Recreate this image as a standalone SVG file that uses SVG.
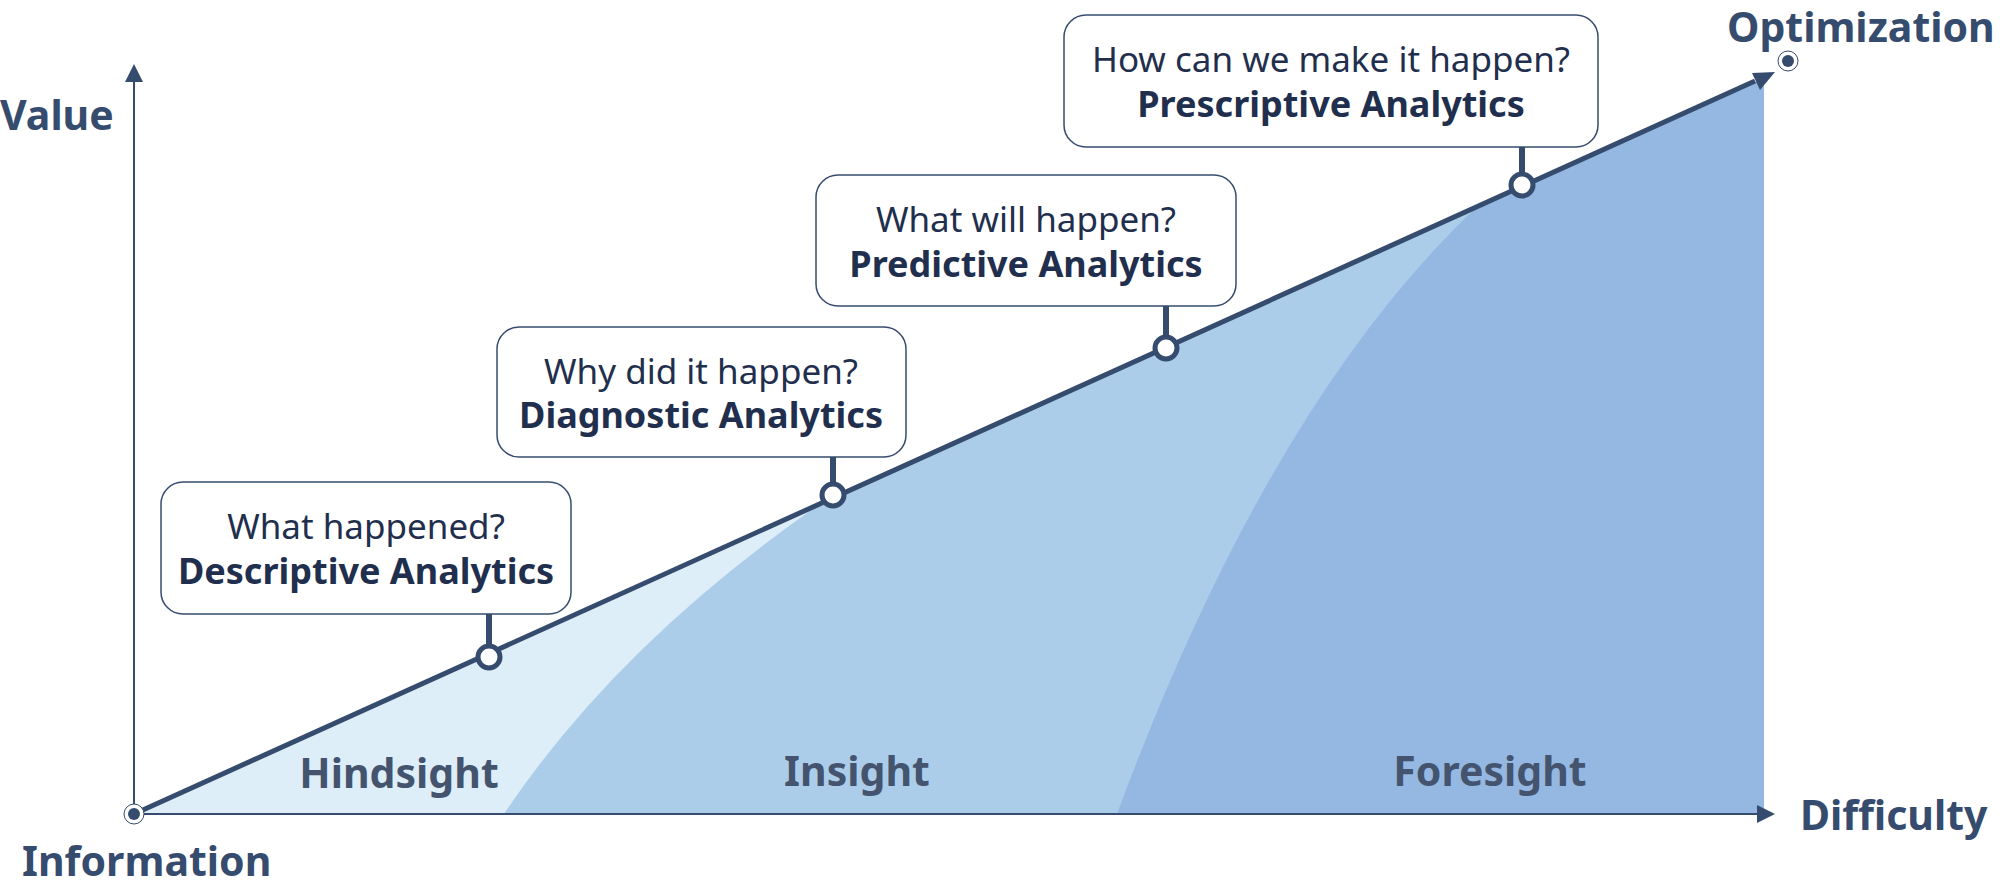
<svg xmlns="http://www.w3.org/2000/svg" width="2000" height="884" viewBox="0 0 2000 884">
<defs>
<style>
.ax{stroke:#364c6e;stroke-width:2;fill:none}
.main{stroke:#364c6e;stroke-width:5;fill:none}
.box{fill:#fff;stroke:#364c6e;stroke-width:1.5}
.q{font-family:"Noto Sans",sans-serif;font-size:35px;fill:#1f2f4d;text-anchor:middle}
.b{font-family:"Noto Sans",sans-serif;font-size:36px;font-weight:bold;fill:#1f2f4d;text-anchor:middle}
.lab{font-family:"Noto Sans",sans-serif;font-size:41px;font-weight:bold;fill:#364c6e}
.reg{font-family:"Noto Sans",sans-serif;font-size:41px;font-weight:bold;fill:#44546f;text-anchor:middle}
.stem{stroke:#364c6e;stroke-width:6}
.mk{fill:#fff;stroke:#364c6e;stroke-width:5}
</style>
</defs>
<g id="areas">
<path d="M134,814L1764,78L1764,814z" fill="#ddeef8"/>
<path d="M504,814Q620,640 833,495L1764,78L1764,814z" fill="#abcdea"/>
<path d="M1117,814Q1270,400 1480,204L1764,78L1764,814z" fill="#94b8e1"/>
</g>
<g id="connectors">
<line class="ax" x1="134" y1="814" x2="134" y2="76"/>
<path d="M134,64l-9,18h18z" fill="#364c6e"/>
<line class="ax" x1="134" y1="814" x2="1765" y2="814"/>
<path d="M1775,814l-18,-9v18z" fill="#364c6e"/>
<line class="main" x1="134" y1="814" x2="1755" y2="81"/>
<path d="M1775,72l-23,1l8,17z" fill="#364c6e"/>
<line class="stem" x1="489" y1="614" x2="489" y2="657"/>
<line class="stem" x1="833" y1="457" x2="833" y2="495"/>
<line class="stem" x1="1166" y1="306" x2="1166" y2="348"/>
<line class="stem" x1="1522" y1="147" x2="1522" y2="185"/>
</g>
<g id="origin"><circle cx="134" cy="814" r="10" fill="#fff" stroke="#364c6e" stroke-width="1"/><circle cx="134" cy="814" r="6" fill="#364c6e"/></g>
<g id="end"><circle cx="1788" cy="61" r="10" fill="#fff" stroke="#364c6e" stroke-width="1"/><circle cx="1788" cy="61" r="6" fill="#364c6e"/></g>
<g id="m1"><circle class="mk" cx="489" cy="657" r="11"/></g>
<g id="m2"><circle class="mk" cx="833" cy="495" r="11"/></g>
<g id="m3"><circle class="mk" cx="1166" cy="348" r="11"/></g>
<g id="m4"><circle class="mk" cx="1522" cy="185" r="11"/></g>
<g id="box1"><rect class="box" x="161" y="482" width="410" height="132" rx="22"/><text class="q" x="366" y="539">What happened?</text><text class="b" x="366" y="584">Descriptive Analytics</text></g>
<g id="box2"><rect class="box" x="497" y="327" width="409" height="130" rx="22"/><text class="q" x="701" y="384">Why did it happen?</text><text class="b" x="701" y="428">Diagnostic Analytics</text></g>
<g id="box3"><rect class="box" x="816" y="175" width="420" height="131" rx="22"/><text class="q" x="1026" y="232">What will happen?</text><text class="b" x="1026" y="277">Predictive Analytics</text></g>
<g id="box4"><rect class="box" x="1064" y="15" width="534" height="132" rx="22"/><text class="q" x="1331" y="72">How can we make it happen?</text><text class="b" x="1331" y="117">Prescriptive Analytics</text></g>
<g id="labels">
<text class="lab" x="0" y="130">Value</text>
<text class="lab" x="22" y="876">Information</text>
<text class="lab" x="1727" y="42">Optimization</text>
<text class="lab" x="1800" y="830">Difficulty</text>
<text class="reg" x="399" y="788">Hindsight</text>
<text class="reg" x="857" y="786">Insight</text>
<text class="reg" x="1490" y="786">Foresight</text>
</g>
</svg>
